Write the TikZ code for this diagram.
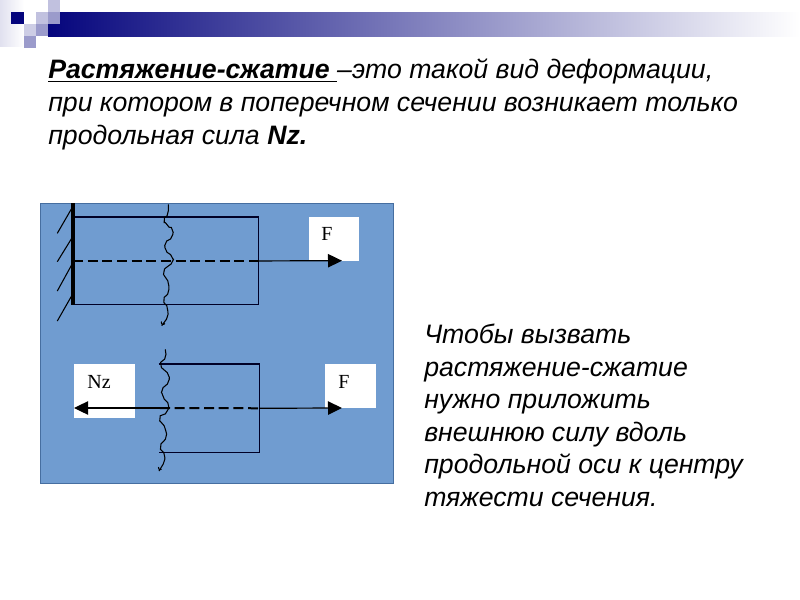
\documentclass[tikz,border=0pt]{standalone}
\usepackage{fontspec}
\setmainfont{Liberation Sans}
\newfontfamily\serifrm{Liberation Serif}
\usetikzlibrary{arrows.meta}
\definecolor{panelblue}{RGB}{112,156,208}
\definecolor{panelline}{RGB}{70,110,160}
\definecolor{navybar}{RGB}{5,5,125}
\tikzset{
  panelbox/.style={draw=panelline,fill=panelblue,anchor=north west,inner sep=0pt,line width=0.8pt},
  whitebox/.style={fill=white,anchor=north west,inner sep=0pt},
  barbox/.style={anchor=north west,inner sep=0pt},
  barline/.style={draw=black!85!blue,line width=0.8pt},
  slidetext/.style={anchor=north west,inner sep=0pt,align=left,font=\fontsize{20}{24.4}\selectfont\itshape},
  boxtext/.style={inner sep=0pt,font=\fontsize{15}{17}\serifrm},
  forcearrow/.style={line width=0.9pt,-{Triangle[length=10.5pt,width=10pt]}},
  axisline/.style={line width=1.5pt,dash pattern=on 7.5pt off 3.5pt},
  hatchline/.style={line width=0.8pt},
  cutline/.style={line width=0.8pt,rounded corners=2pt}
}
\begin{document}
\begin{tikzpicture}[x=0.75pt,y=-0.75pt]
\useasboundingbox (0,0) rectangle (800,600);

    % header strip
    \shade[left color=navybar,right color=white] (48,12) rectangle (800,36);
    \fill[white] (48,12) rectangle (60,24);
    \shade[left color=navybar!12,right color=white] (0,0) rectangle (24,46);
    \fill[navybar] (11,12) rectangle (24,24);
    \fill[navybar!25] (48,0) rectangle (60,12);
    \fill[navybar!25] (36,12) rectangle (48,24);
    \fill[navybar!40] (48,12) rectangle (60,24);
    \fill[navybar!20] (24,24) rectangle (36,36);
    \fill[navybar!40] (36,24) rectangle (48,36);
    \fill[navybar!40] (24,36) rectangle (36,48);

    % texts
    \node[slidetext] (title) at (48,59) {\textbf{\underline{Растяжение-сжатие }}–это такой вид деформации,\\
      при котором в поперечном сечении возникает только\\
      продольная сила \textbf{Nz.}};
    \node[slidetext] (hint) at (424,324) {Чтобы вызвать\\
      растяжение-сжатие\\
      нужно приложить\\
      внешнюю силу вдоль\\
      продольной оси к центру\\
      тяжести сечения.};

    \node[panelbox,minimum width=264.75pt,minimum height=210pt] (panel) at (40,202.5) {};
    \node[whitebox,minimum width=37.5pt,minimum height=33pt] (boxF) at (309,217) {};
    \node[whitebox,minimum width=45.75pt,minimum height=40.5pt] (boxNz) at (74,364) {};
    \node[whitebox,minimum width=38.25pt,minimum height=33pt] (boxFF) at (325,364) {};
    \node[boxtext] (labF) at (327,234) {F};
    \node[boxtext] (labNz) at (99,382) {Nz};
    \node[boxtext] (labFF) at (344,382) {F};

    % upper bar
    \node[barbox,minimum width=139pt,minimum height=65.5pt] (bar) at (73,217) {};
    \draw[barline] (bar.north west) rectangle (bar.south east);
    \draw[line width=2.6pt] (73,203) -- (73,305);
    \foreach \ytop/\ybot in {206.7/233.3,236.7/261.7,263/291,294/321}
      \draw[hatchline] (72.7,\ytop) -- (57.3,\ybot);
    \coordinate (axisA) at (bar.west);
    \coordinate (tipF) at (342,260.7);
    \draw[axisline] (axisA) -- (bar.east);
    \draw[forcearrow] (bar.east) -- (tipF);
    \draw[cutline] plot[smooth] coordinates {(168.3,204.3) (167.7,213.3) (164.3,220) (167.3,225) (172.3,230) (171.7,236.7) (165.7,243.3) (166,250) (171.7,256.7) (172.3,261.7) (164,271.7) (168.3,283.3) (168.3,291.7) (164,300) (167.3,308.3) (167.3,316.7) (161.7,325.7)};
    \draw[cutline] (161.3,321.5) -- (161.7,325.7) -- (165,323.5);

    % lower bar
    \node[barbox,minimum width=75pt,minimum height=66pt] (part) at (158.5,364) {};
    \draw[barline] (part.north west) -- (part.north east) -- (part.south east) -- (part.south west);
    \coordinate (axisB) at (160,408);
    \coordinate (tipNz) at (74,408);
    \coordinate (tipFF) at (342,408);
    \draw[axisline] (axisB) -- (part.east);
    \draw[forcearrow] (part.east) -- (tipFF);
    \draw[forcearrow] (axisB) -- (tipNz);
    \draw[cutline] plot[smooth] coordinates {(165.3,349.3) (165.3,356.7) (161,365) (168.3,375) (168.3,381.7) (162.3,390) (163.3,396.7) (168.3,405) (166.7,411.7) (160,418.3) (165,428.3) (166,436.7) (160.7,446.7) (164.3,455) (164,461.7) (159,471)};
    \draw[cutline] (158.5,467) -- (159,471) -- (161.5,469);

\end{tikzpicture}
\end{document}
